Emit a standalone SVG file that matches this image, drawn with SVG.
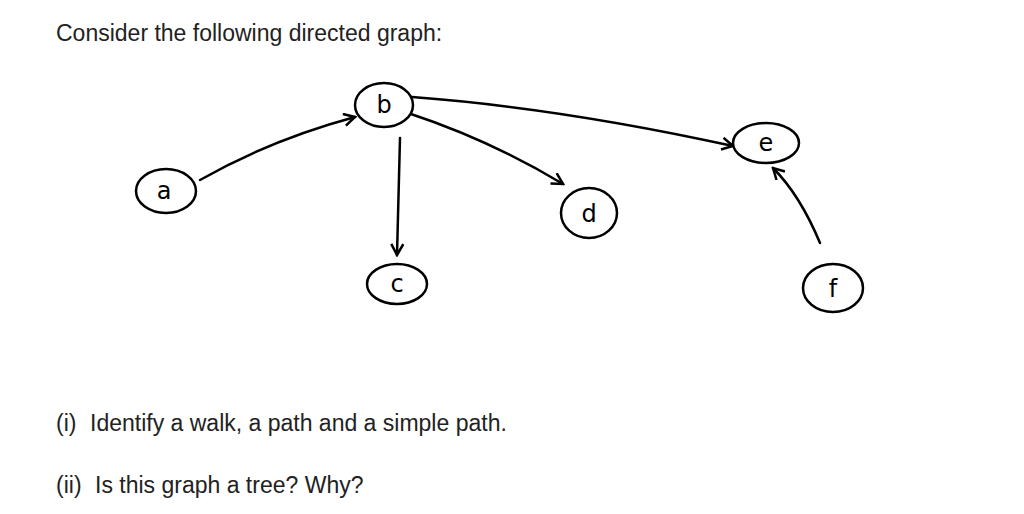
<svg xmlns="http://www.w3.org/2000/svg" width="1024" height="514" viewBox="0 0 1024 514">
<style>
.t{font-family:"Liberation Sans",Arial,sans-serif;font-size:23px;fill:#222}
.n ellipse{fill:#fff;stroke:#000;stroke-width:2.5}
.n text{font-family:"DejaVu Sans",sans-serif;font-size:24px;text-anchor:middle;fill:#000}
.e path{fill:none;stroke:#000;stroke-width:2.5;stroke-linecap:round}
</style>
<defs><marker id="ah" markerWidth="14" markerHeight="14" refX="12" refY="7" orient="auto" markerUnits="userSpaceOnUse"><path d="M1,1 L12,7 L1,13" fill="none" stroke="#000" stroke-width="2.5"/></marker></defs>
<rect width="1024" height="514" fill="#fff"/>
<text class="t" x="56" y="41">Consider the following directed graph:</text>
<text class="t" x="56" y="431">(i)</text>
<text class="t" x="90" y="431">Identify a walk, a path and a simple path.</text>
<text class="t" x="56" y="493">(ii)</text>
<text class="t" x="95" y="493">Is this graph a tree? Why?</text>
<g class="e">
<path d="M200,180 Q270,140 355,117" marker-end="url(#ah)"/>
<path d="M412,97 Q560,108 733,146" marker-end="url(#ah)"/>
<path d="M408,113 Q490,140 563,184" marker-end="url(#ah)"/>
<path d="M400,138 L397,255" marker-end="url(#ah)"/>
<path d="M820,243 Q800,195 773,168" marker-end="url(#ah)"/>
</g>
<g id="a" class="n"><ellipse cx="166" cy="191" rx="30" ry="22"/><text x="164" y="199">a</text></g>
<g id="b" class="n"><ellipse cx="384" cy="105" rx="29" ry="22"/><text x="384" y="113">b</text></g>
<g id="c" class="n"><ellipse cx="397" cy="284" rx="30" ry="20"/><text x="397" y="292">c</text></g>
<g id="d" class="n"><ellipse cx="589" cy="213" rx="28" ry="25"/><text x="589" y="222">d</text></g>
<g id="e" class="n"><ellipse cx="766" cy="143" rx="33" ry="20"/><text x="766" y="151">e</text></g>
<g id="f" class="n"><ellipse cx="833" cy="288" rx="30" ry="24"/><text x="833" y="297">f</text></g>
</svg>
